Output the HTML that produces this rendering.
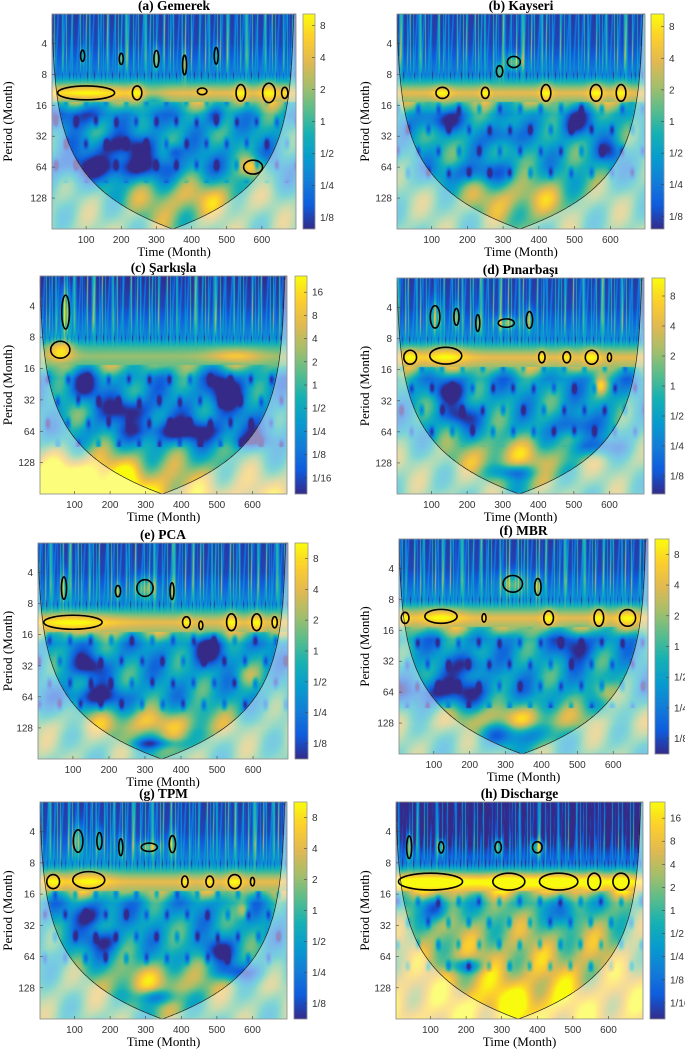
<!DOCTYPE html>
<html><head><meta charset="utf-8">
<style>
html,body{margin:0;padding:0;background:#fff;}
#wrap{position:relative;width:685px;height:1050px;overflow:hidden;}
canvas,svg{position:absolute;left:0;top:0;}
</style></head>
<body>
<div id="wrap">
<canvas id="cv" width="685" height="1050"></canvas>
<svg id="sv" width="685" height="1050" xmlns="http://www.w3.org/2000/svg"></svg>
</div>
<script>
// band profile (log2 power) at period log2 levels
const bandLevels = [1,2,3,3.3,3.6,3.9,4.3,5,6,7,8];
const bandsA = [-2.6,-2.4,-1.6,0,2,0.8,-0.8,-0.8,-1.2,0,0.5];
const bandsB = [-2.6,-2.4,-1.6,0,2,0.8,-0.8,-0.5,-0.6,0.3,0.3];
const bandsC = [-2.8,-2.4,-1.4,0,1,0.5,-1.2,-1.2,-1.5,0.3,2];
const bandsD = [-2.6,-2.4,-1.4,0.2,2,1,-1.2,-0.8,-0.6,0.6,0.3];
const bandsE = [-2.6,-2.4,-1.4,0.2,2,1,-1.2,-1,-0.8,0.6,0.2];
const bandsF = [-2.6,-2.4,-1.4,0.2,2,1,-1.2,-0.8,-1,0.6,0.1];
const bandsG = [-2.6,-2.4,-1.4,0.2,2,1,-1.2,-0.8,-0.6,0.6,0.3];
const bandsH = [-3.8,-3.5,-2,0,3,1.5,0,0.8,1.5,2.2,2.5];
// blobs: [time, log2 period, half-width time, half-width log2 period, delta, significant]
const blobsA = [[100,3.6,90,0.25,1.5,1],[245,3.6,15,0.25,1.5,1],[430,3.55,15,0.12,0.8,1],[540,3.6,15,0.3,1.5,1],[620,3.6,20,0.35,1.5,1],[665,3.6,10,0.2,1,1],[575,6.0,30,0.25,3.5,1],[300,2.5,8,0.3,2.5,1],[380,2.7,6,0.35,2.5,1],[470,2.4,6,0.3,2,1],[200,2.5,5,0.2,2,1],[90,2.4,5,0.2,2,1],[80,4.3,60,0.35,-2.5,0],[200,5.3,70,0.3,-2.5,0],[180,6.0,140,0.35,-2.5,0],[350,5.5,20,0.2,-2,0],[470,4.4,20,0.3,-2.5,0],[290,4.2,30,0.5,-2,0],[420,7,150,0.5,1.8,0]];
const blobsB = [[130,3.6,20,0.2,1.5,1],[250,3.6,12,0.2,1.5,1],[420,3.6,15,0.3,1.5,1],[560,3.6,18,0.3,1.5,1],[630,3.6,15,0.3,1.5,1],[330,2.6,20,0.2,2.5,1],[290,2.9,10,0.2,2,1],[120,4.5,50,0.3,-2.5,0],[300,5.0,40,0.3,-2.5,0],[500,4.6,40,0.4,-2.5,0],[220,6.2,80,0.3,-2,0],[350,7,120,0.5,1.5,0],[600,5.5,30,0.3,-2,0]];
const blobsC = [[75,2.2,12,0.6,3,1],[60,3.4,30,0.3,2.5,1],[100,7.7,160,0.8,4,0],[550,3.6,60,0.2,1.5,0],[520,4.7,40,0.5,-3,0],[250,5.3,50,0.3,-2.5,0],[400,6.0,100,0.3,-2.5,0],[130,4.6,30,0.4,-2.5,0],[600,6.3,50,0.2,-2,0],[80,5.5,40,0.5,1.5,0]];
const blobsD = [[40,3.6,20,0.25,1.5,1],[140,3.55,50,0.3,1.5,1],[410,3.6,10,0.2,1.2,1],[480,3.6,12,0.2,1.2,1],[550,3.6,20,0.25,1.5,1],[600,3.6,5,0.15,1,1],[110,2.3,15,0.4,2.5,1],[170,2.3,8,0.3,2.5,1],[230,2.5,6,0.3,2.5,1],[310,2.5,25,0.15,2.5,1],[375,2.4,10,0.3,2.5,1],[575,4.5,15,0.25,2.5,0],[150,4.7,40,0.3,-2.5,0],[180,5.5,40,0.3,-2.5,0],[500,5.8,40,0.3,-2.5,0],[560,6.5,60,0.25,-2.5,0],[330,7.3,50,0.2,-2.5,0],[330,6.7,120,0.4,1.5,0]];
const blobsE = [[100,3.6,90,0.25,1.5,1],[415,3.6,12,0.2,1.3,1],[455,3.7,6,0.15,1,1],[540,3.6,15,0.3,1.5,1],[610,3.6,15,0.3,1.5,1],[660,3.6,8,0.2,1.2,1],[75,2.5,8,0.4,2.5,1],[225,2.6,8,0.2,2.5,1],[300,2.5,25,0.3,2.5,1],[375,2.6,6,0.3,2.5,1],[150,5.0,40,0.3,-2.5,0],[480,4.5,40,0.4,-2.5,0],[160,6.0,80,0.3,-2.5,0],[330,7.5,60,0.15,-2.5,0],[300,6.8,150,0.3,1.5,0],[580,5.3,30,0.3,1.5,0]];
const blobsF = [[20,3.6,12,0.2,1.3,1],[120,3.55,50,0.25,1.5,1],[240,3.6,6,0.15,1,1],[420,3.6,15,0.25,1.5,1],[560,3.6,15,0.3,1.5,1],[640,3.6,25,0.3,1.5,1],[320,2.5,30,0.3,2.5,1],[390,2.6,10,0.3,2.5,1],[575,6,30,0.3,3,0],[130,6.0,100,0.4,-2.5,0],[200,5.1,40,0.3,-2.5,0],[500,4.5,40,0.4,-2.5,0],[330,7.4,80,0.3,-2.5,0],[330,6.8,150,0.3,1.5,0]];
const blobsG = [[40,3.6,20,0.25,1.5,1],[140,3.55,50,0.3,1.5,1],[410,3.6,10,0.2,1.2,1],[480,3.6,12,0.2,1.2,1],[550,3.6,20,0.25,1.5,1],[600,3.6,5,0.15,1,1],[110,2.3,15,0.4,2.5,1],[170,2.3,8,0.3,2.5,1],[230,2.5,6,0.3,2.5,1],[310,2.5,25,0.15,2.5,1],[375,2.4,10,0.3,2.5,1],[575,4.5,15,0.25,2.5,0],[150,4.7,40,0.3,-2.5,0],[180,5.5,40,0.3,-2.5,0],[500,5.8,40,0.3,-2.5,0],[560,6.5,60,0.25,-2.5,0],[330,7.3,50,0.2,-2.5,0],[330,6.7,120,0.4,1.5,0]];
const blobsH = [[100,3.6,100,0.3,1.5,1],[320,3.6,50,0.3,1.5,1],[460,3.6,60,0.3,1.5,1],[560,3.6,20,0.3,1.5,1],[635,3.6,25,0.3,1.5,1],[40,2.5,8,0.4,3,1],[130,2.5,8,0.2,3,1],[290,2.5,10,0.2,3,1],[400,2.5,15,0.2,3,1],[120,4.5,30,0.3,-3,0],[480,4.6,30,0.4,-3,0],[200,6.3,40,0.2,-3,0],[330,7.5,120,0.4,1,0]];
const titles = ['(a) Gemerek','(b) Kayseri','(c) Şarkışla','(d) Pınarbaşı','(e) PCA','(f) MBR','(g) TPM','(h) Discharge'];
const periodTicks = ['4','8','16','32','64','128'];
const timeTicks = [100,200,300,400,500,600];
const cbTicks3 = ['8','4','2','1','1/2','1/4','1/8'];
const cbTicks4 = ['16','8','4','2','1','1/2','1/4','1/8','1/16'];

const panels = [
 {n:'a',x0:52,x1:296,y0:14,y1:229,cbx:303,cbx1:315,pm:3.36,band:bandsA,blobs:blobsA,ct:cbTicks3,lab:8},
 {n:'b',x0:397,x1:645,y0:14,y1:229,cbx:651,cbx1:664,pm:3.4,band:bandsB,blobs:blobsB,ct:cbTicks3,lab:365},
 {n:'c',x0:40,x1:287,y0:276,y1:494,cbx:295,cbx1:307,pm:4.7,band:bandsC,blobs:blobsC,ct:cbTicks4,lab:8},
 {n:'d',x0:397,x1:644,y0:278,y1:494,cbx:652,cbx1:665,pm:3.6,band:bandsD,blobs:blobsD,ct:cbTicks3,lab:365},
 {n:'e',x0:38,x1:288,y0:543,y1:759,cbx:295,cbx1:308,pm:3.5,band:bandsE,blobs:blobsE,ct:cbTicks3,lab:8},
 {n:'f',x0:399,x1:648,y0:539,y1:754,cbx:655,cbx1:669,pm:3.5,band:bandsF,blobs:blobsF,ct:cbTicks3,lab:365},
 {n:'g',x0:40,x1:287,y0:802,y1:1019,cbx:294,cbx1:307,pm:3.5,band:bandsG,blobs:blobsG,ct:cbTicks3,lab:8},
 {n:'h',x0:396,x1:643,y0:802,y1:1019,cbx:650,cbx1:665,pm:4.7,band:bandsH,blobs:blobsH,ct:cbTicks4,lab:365}
];
const T0=3,T1=697,P0=1.05,P1=8;
const PAR=[[53,42,135],[15,92,221],[18,125,216],[7,156,207],[21,177,180],[89,189,140],[165,190,107],[225,185,82],[252,206,46],[249,251,14]];
function cmap(u){u=Math.max(0,Math.min(1,u));const f=u*(PAR.length-1);const i=Math.min(PAR.length-2,Math.floor(f));const r=f-i;return PAR[i].map((c,k)=>c+(PAR[i+1][k]-c)*r);}
function interpBand(b,lp){if(lp<=bandLevels[0])return b[0];for(let i=0;i<bandLevels.length-1;i++){if(lp<=bandLevels[i+1]){const r=(lp-bandLevels[i])/(bandLevels[i+1]-bandLevels[i]);return b[i]+(b[i+1]-b[i])*r;}}return b[b.length-1];}
function coi(t){return Math.log2(Math.max(0.5,0.74*Math.min(t,693-t)));}

const cv=document.getElementById('cv');const ctx=cv.getContext('2d');
const img=ctx.createImageData(685,1050);const D=img.data;
for(let i=0;i<D.length;i+=4){D[i]=D[i+1]=D[i+2]=D[i+3]=255;}
const NS='http://www.w3.org/2000/svg';const sv=document.getElementById('sv');
function el(tag,attrs,parent,txt){const e=document.createElementNS(NS,tag);for(const k in attrs)e.setAttribute(k,attrs[k]);if(txt!==undefined)e.textContent=txt;(parent||sv).appendChild(e);return e;}
const defs=el('defs',{});

panels.forEach((p,pi)=>{
 const w=p.x1-p.x0,h=p.y1-p.y0;
 const X=t=>p.x0+(t-T0)/(T1-T0)*w;
 const Y=lp=>p.y0+(lp-P0)/(P1-P0)*h;
 const sc=p.pm/3.3;
 for(let py=p.y0;py<p.y1;py++){
  const lp=P0+(py+0.5-p.y0)/h*(P1-P0);
  for(let px=p.x0;px<p.x1;px++){
   const t=T0+(px+0.5-p.x0)/w*(T1-T0);
   let v=interpBand(p.band,lp);
   const wt=Math.max(0,Math.min(1,(3.3-lp)/0.9));
   const s=Math.pow(Math.max(0,Math.sin(t*0.5+Math.sin(t*0.13+pi)*3)),3);
   const s2=Math.pow(Math.max(0,Math.sin(t*0.31+lp*1.3+pi*0.7)),4);
   v+=wt*(3.0*s+1.2*s2-0.5);
   const dw=Math.exp(-Math.pow((lp-3.05)/0.14,2));
   v-=dw*2.2*Math.pow(Math.max(0,Math.sin(t*0.62+pi)),4);
   if(lp>3.9){
    const m=Math.sin(t*0.045+pi*1.7+lp*0.4)*Math.sin(lp*2.6+pi+t*0.01);
    v+=1.4*m;
    const dd=Math.pow(Math.max(0,Math.sin(t*0.11+pi)*Math.sin(lp*4.5+pi*2)),3);
    if(lp<6.5) v-=2.2*dd;
   }
   for(const b of p.blobs){const dt=(t-b[0])/b[2],dp=(lp-b[1])/b[3];const q=dt*dt+dp*dp;if(q<9)v+=b[4]*Math.exp(-q*0.7);}
   v*=sc;
   let c=cmap((v+p.pm)/(2*p.pm));
   if(lp>coi(t)) c=c.map(x=>x*0.55+255*0.45);
   const o=(py*685+px)*4;D[o]=c[0];D[o+1]=c[1];D[o+2]=c[2];D[o+3]=255;
  }
 }
 for(let py=p.y0;py<p.y1;py++){const u=1-(py-p.y0)/h;const c=cmap(u);for(let px=p.cbx;px<p.cbx1;px++){const o=(py*685+px)*4;D[o]=c[0];D[o+1]=c[1];D[o+2]=c[2];D[o+3]=255;}}

 const cp=el('clipPath',{id:'clip'+p.n},defs);
 el('rect',{x:p.x0,y:p.y0,width:w,height:h},cp);
 const g=el('g',{});
 
 
 const tt=el('text',{x:(p.x0+p.x1)/2,y:p.y0-4,'text-anchor':'middle','font-family':'"Liberation Serif",serif','font-weight':'bold','font-size':'13.5'},g,titles[pi]);
 
 
 let d='';for(let t=T0;t<=T1;t+=2){const lp=Math.min(P1,Math.max(P0,coi(t)));d+=(d?'L':'M')+X(t).toFixed(1)+','+Y(lp).toFixed(1);}
 const cl=el('path',{d:d,fill:'none',stroke:'#222','stroke-width':'0.7'},g);
 
 
 const cg=el('g',{'clip-path':'url(#clip'+p.n+')'},g);
 p.blobs.forEach(b=>{if(b[5]){const ce=el('ellipse',{cx:X(b[0]),cy:Y(b[1]),rx:Math.max(2,b[2]/(T1-T0)*w*0.9),ry:Math.max(2,b[3]/(P1-P0)*h*0.9),fill:'none',stroke:'#000','stroke-width':'1.6'},cg);
  
  }});
 const fr=el('rect',{x:p.x0,y:p.y0,width:w,height:h,fill:'none',stroke:'#888','stroke-width':'0.8'},g);
 
 
 periodTicks.forEach((lab,i)=>{const y=Y(i+2);el('line',{x1:p.x0,x2:p.x0+3,y1:y,y2:y,stroke:'#444','stroke-width':'0.6'},g);
  const tx=el('text',{x:p.x0-5,y:y+3.5,'text-anchor':'end','font-family':'"Liberation Sans",sans-serif','font-size':'10',fill:'#333'},g,lab);
  
  });
 timeTicks.forEach(t=>{const x=X(t);el('line',{x1:x,x2:x,y1:p.y1,y2:p.y1-3,stroke:'#444','stroke-width':'0.6'},g);
  const tx=el('text',{x:x,y:p.y1+14,'text-anchor':'middle','font-family':'"Liberation Sans",sans-serif','font-size':'10',fill:'#333'},g,String(t));
  
  });
 const xl=el('text',{x:(p.x0+p.x1)/2,y:p.y1+27,'text-anchor':'middle','font-family':'"Liberation Serif",serif','font-size':'13'},g,'Time (Month)');
 
 
 const yl=el('text',{x:0,y:0,transform:'translate('+(p.lab+4)+','+((p.y0+p.y1)/2)+') rotate(-90)','text-anchor':'middle','font-family':'"Liberation Serif",serif','font-size':'13'},g,'Period (Month)');
 
 
 const cbr=el('rect',{x:p.cbx,y:p.y0,width:p.cbx1-p.cbx,height:h,fill:'none',stroke:'#888','stroke-width':'0.7'},g);
 
 
 const top=(p.ct.length-1)/2;
 p.ct.forEach((lab,i)=>{const pw=top-i;const y=p.y0+(p.pm-pw)/(2*p.pm)*h;
  el('line',{x1:p.cbx1-3,x2:p.cbx1,y1:y,y2:y,stroke:'#444','stroke-width':'0.6'},g);
  const tx=el('text',{x:p.cbx1+5,y:y+3.5,'font-family':'"Liberation Sans",sans-serif','font-size':'10',fill:'#333'},g,lab);
  
  });
});
ctx.putImageData(img,0,0);
</script>
</body></html>
